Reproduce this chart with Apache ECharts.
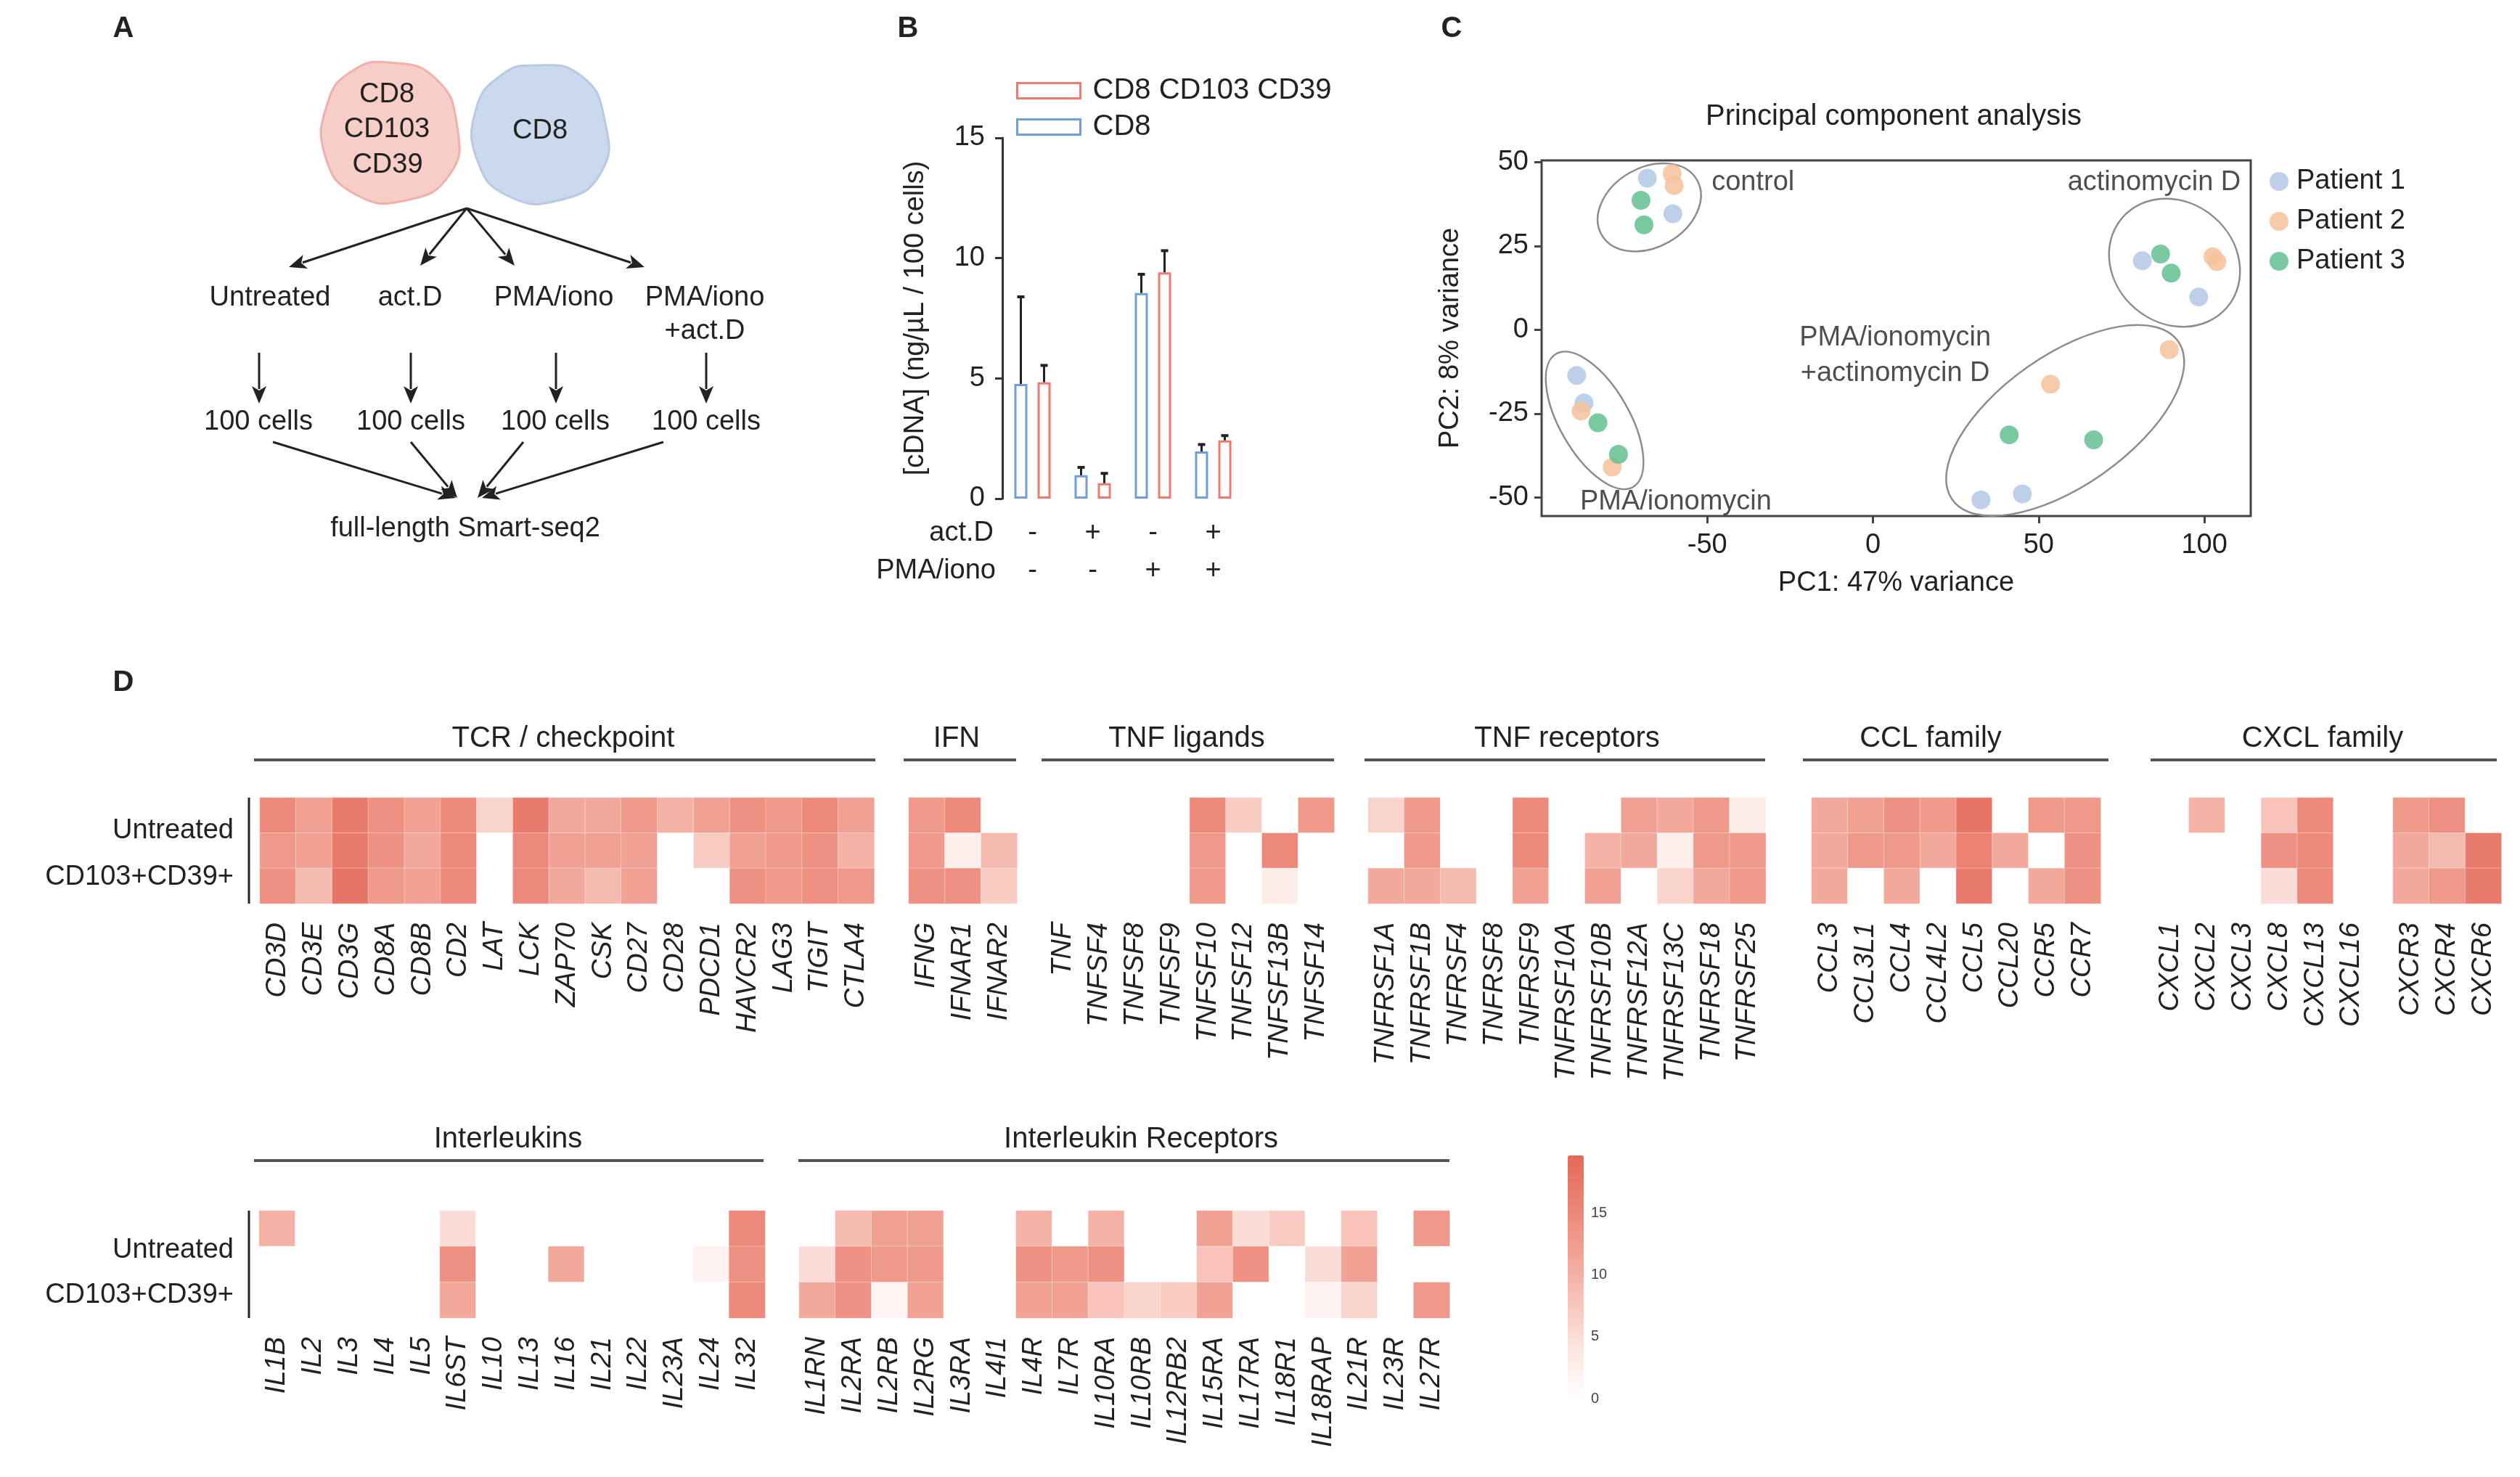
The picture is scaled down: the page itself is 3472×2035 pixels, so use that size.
<!DOCTYPE html>
<html><head><meta charset="utf-8">
<script src="https://cdn.jsdelivr.net/npm/echarts@6/dist/echarts.min.js"></script>
<style>html,body{margin:0;padding:0;background:#fff}#c{width:3472px;height:2035px}</style>
</head><body><div id="c"></div><script>
// ================= DATA =================
// Panel B
const barCategories = ['Untreated', 'act.D', 'PMA/iono', 'PMA/iono+act.D'];
const actDSigns = ['-', '+', '-', '+'];
const pmaSigns = ['-', '-', '+', '+'];
const cd8Mean = [4.77, 0.97, 8.55, 1.96];
const cd8Upper = [8.39, 1.30, 9.33, 2.25];
const trmMean = [4.84, 0.64, 9.41, 2.42];
const trmUpper = [5.54, 1.05, 10.31, 2.62];
// Panel C
const patient1 = [[-68.1, 45.2], [-60.4, 34.6], [81.3, 20.6], [98.3, 9.8], [32.6, -50.7], [45.1, -48.9], [-89.4, -13.6], [-87.2, -21.8]];
const patient2 = [[-60.6, 46.6], [-60.0, 43.0], [102.6, 21.8], [103.8, 20.3], [89.4, -5.9], [53.6, -16.2], [-88.1, -24.2], [-78.7, -40.9]];
const patient3 = [[-70.0, 38.6], [-69.1, 31.3], [86.8, 22.6], [90.0, 16.9], [41.1, -31.3], [66.6, -32.8], [-83.0, -27.7], [-76.8, -37.1]];
// ellipse: [cx, cy, semi-major, semi-minor (x units), angle deg]
const pcaEllipses = [[-67.5, 36.5, 16.6, 12.0, 30], [91, 20, 20.8, 18.2, -40], [58, -27, 41.6, 19.7, 35], [-84, -27, 23.2, 10.5, -60]];
const pcaLabels = [
  {name: 'control', value: [-48.7, 44.0], align: 'left'},
  {name: 'actinomycin D', value: [111, 44.0], align: 'right'},
  {name: 'PMA/ionomycin\n+actinomycin D', value: [6.7, -7.6], align: 'center'},
  {name: 'PMA/ionomycin', value: [-88.4, -51.2], align: 'left'}
];
const pcaXTicks = [-50, 0, 50, 100];
const pcaYTicks = [-50, -25, 0, 25, 50];
// Panel D heatmaps (3 rows each)
const tcrGenes = ['CD3D','CD3E','CD3G','CD8A','CD8B','CD2','LAT','LCK','ZAP70','CSK','CD27','CD28','PDCD1','HAVCR2','LAG3','TIGIT','CTLA4'];
const tcrValues = [
  [15,12,17,14,12,15,6,17,11,11,13,10,12,14,13,15,12],
  [13,12,17,14,11,15,0,15,12,12,12,0,7,12,13,14,10],
  [14,9,18,13,12,15,0,15,11,9,12,0,0,14,13,14,13]];
const ifnGenes = ['IFNG','IFNAR1','IFNAR2'];
const ifnValues = [[13,15,0],[13,2.5,9],[14,14,7]];
const tnflGenes = ['TNF','TNFSF4','TNFSF8','TNFSF9','TNFSF10','TNFSF12','TNFSF13B','TNFSF14'];
const tnflValues = [[0,0,0,0,15,7,0,13],[0,0,0,0,13,0,15,0],[0,0,0,0,13,0,3,0]];
const tnfrGenes = ['TNFRSF1A','TNFRSF1B','TNFRSF4','TNFRSF8','TNFRSF9','TNFRSF10A','TNFRSF10B','TNFRSF12A','TNFRSF13C','TNFRSF18','TNFRSF25'];
const tnfrValues = [
  [6,13,0,0,15,0,0,12,11,13,3],
  [0,13,0,0,15,0,10,11,2.5,13,13],
  [11,11,9,0,12,0,12,0,6,11,13]];
const cclGenes = ['CCL3','CCL3L1','CCL4','CCL4L2','CCL5','CCL20','CCR5','CCR7'];
const cclValues = [[11,12,14,13,18,0,13,13],[11,13,13,11,16,11,0,14],[11,0,11,0,17,0,11,14]];
const cxclGenes = ['CXCL1','CXCL2','CXCL3','CXCL8','CXCL13','CXCL16'];
const cxclValues = [[0,10,0,8,15,0],[0,0,0,14,15,0],[0,0,0,5,15,0]];
const cxcrGenes = ['CXCR3','CXCR4','CXCR6'];
const cxcrValues = [[13,14,0],[11,9,17],[11,13,17]];
const ilGenes = ['IL1B','IL2','IL3','IL4','IL5','IL6ST','IL10','IL13','IL16','IL21','IL22','IL23A','IL24','IL32'];
const ilValues = [
  [10,0,0,0,0,5,0,0,0,0,0,0,0,15],
  [0,0,0,0,0,14,0,0,11,0,0,0,2,14],
  [0,0,0,0,0,11,0,0,0,0,0,0,0,15]];
const ilrGenes = ['IL1RN','IL2RA','IL2RB','IL2RG','IL3RA','IL4I1','IL4R','IL7R','IL10RA','IL10RB','IL12RB2','IL15RA','IL17RA','IL18R1','IL18RAP','IL21R','IL23R','IL27R'];
const ilrValues = [
  [0,9,12,12,0,0,10,0,10,0,0,12,5,7,0,8,0,13],
  [5,14,13,13,0,0,14,13,14,0,0,8,14,0,5,12,0,0],
  [11,14,1.5,12,0,0,12,12,8,6,7,12,0,0,2,6,0,13]];
const colorTicks = [0, 5, 10, 15];
const colorMax = 19.7;

// ================= LAYOUT / STYLE =================
const FONT = '"Liberation Sans", Arial, Helvetica, sans-serif';
const TXT = '#222';
const BLUE = '#6f9fd5', RED = '#ef7b6e';
const P_COLORS = ['#b3c7e5', '#f6c29a', '#63c08f'];
const BAR_W = 18, BAR_GAP = 0.78;
const CELL_W = 49.8;
const hmGroups = [
  {genes: tcrGenes, values: tcrValues, left: 358, top: 1099, h: 146},
  {genes: ifnGenes, values: ifnValues, left: 1252, top: 1099, h: 146},
  {genes: tnflGenes, values: tnflValues, left: 1440, top: 1099, h: 146},
  {genes: tnfrGenes, values: tnfrValues, left: 1885, top: 1099, h: 146},
  {genes: cclGenes, values: cclValues, left: 2496, top: 1099, h: 146},
  {genes: cxclGenes, values: cxclValues, left: 2966, top: 1099, h: 146},
  {genes: cxcrGenes, values: cxcrValues, left: 3297, top: 1099, h: 146},
  {genes: ilGenes, values: ilValues, left: 357, top: 1668, h: 148},
  {genes: ilrGenes, values: ilrValues, left: 1101, top: 1668, h: 148}
];
// [text, lineX1, lineX2, lineY, textCenterX]
const headers = [
  ['TCR / checkpoint', 350, 1206, 1047, 776], ['IFN', 1245, 1400, 1047, 1318], ['TNF ligands', 1435, 1838, 1047, 1635],
  ['TNF receptors', 1880, 2432, 1047, 2159], ['CCL family', 2484, 2905, 1047, 2660], ['CXCL family', 2963, 3440, 1047, 3200],
  ['Interleukins', 350, 1052, 1599, 700], ['Interleukin Receptors', 1100, 1997, 1599, 1572]
];
const pinkBlob = [[535, 86], [600, 108], [630, 175], [620, 240], [560, 276], [490, 268], [448, 215], [452, 140], [485, 98]];
const blueBlob = [[735, 90], [800, 104], [833, 165], [828, 238], [770, 276], [700, 270], [658, 222], [656, 150], [690, 104]];

// ================= HELPERS =================
function txt(text, x, y, o) {
  o = o || {};
  return {type: 'text', x: x, y: y, silent: true, style: {text: text, fill: o.fill || TXT, fontSize: o.size || 38,
    fontFamily: FONT, fontWeight: o.weight || 'normal', align: o.align || 'center', verticalAlign: 'middle', lineHeight: o.lh || 46}};
}
function line(x1, y1, x2, y2, c, w) {
  return {type: 'line', silent: true, shape: {x1: x1, y1: y1, x2: x2, y2: y2}, style: {stroke: c || '#222', lineWidth: w || 3}};
}
function arrow(x1, y1, x2, y2) {
  const L = 24, W = 10; const dx = x2 - x1, dy = y2 - y1; const len = Math.hypot(dx, dy);
  const ux = dx / len, uy = dy / len; const bx = x2 - ux * L, by = y2 - uy * L;
  return [line(x1, y1, bx + ux * 4, by + uy * 4, '#222', 3),
    {type: 'polygon', silent: true, shape: {points: [[x2, y2], [bx - uy * W, by + ux * W], [bx + ux * 6, by + uy * 6], [bx + uy * W, by - ux * W]]}, style: {fill: '#222'}}];
}
function errRender(side) {
  return function (params, api) {
    const i = api.value(0);
    const p0 = api.coord([i, api.value(1)]);
    const p1 = api.coord([i, api.value(2)]);
    const x = p0[0] + side * BAR_W * (1 + BAR_GAP) / 2;
    return {type: 'group', children: [
      {type: 'line', shape: {x1: x, y1: p0[1], x2: x, y2: p1[1]}, style: {stroke: '#222', lineWidth: 3}},
      {type: 'line', shape: {x1: x - 5, y1: p1[1], x2: x + 5, y2: p1[1]}, style: {stroke: '#222', lineWidth: 4}}]};
  };
}
function ellipseItem(params, api) {
  const c = api.coord([api.value(0), api.value(1)]);
  const ux = api.size([1, 0])[0];
  return {type: 'ellipse', x: c[0], y: c[1], rotation: api.value(4) * Math.PI / 180,
    shape: {cx: 0, cy: 0, rx: api.value(2) * ux, ry: api.value(3) * ux},
    style: {fill: 'none', stroke: '#8c8c8c', lineWidth: 2.5}};
}

// ================= GRAPHIC (panel A, headers, row labels) =================
const graphic = [];
graphic.push(txt('A', 170, 40, {weight: 'bold', size: 40}));
graphic.push(txt('B', 1251, 40, {weight: 'bold', size: 40}));
graphic.push(txt('C', 2000, 40, {weight: 'bold', size: 40}));
graphic.push(txt('D', 170, 941, {weight: 'bold', size: 40}));
graphic.push({type: 'polygon', silent: true, shape: {points: pinkBlob, smooth: 0.5}, style: {fill: '#f7cdc8', stroke: '#efb1aa', lineWidth: 3}});
graphic.push({type: 'polygon', silent: true, shape: {points: blueBlob, smooth: 0.5}, style: {fill: '#cad9ec', stroke: '#b6cae3', lineWidth: 3}});
graphic.push(txt('CD8', 533, 131), txt('CD103', 533, 179), txt('CD39', 534, 228), txt('CD8', 744, 181));
[[398, 368], [579, 366], [709, 366], [888, 368]].forEach(p => graphic.push(...arrow(643, 287, p[0], p[1])));
graphic.push(txt('Untreated', 372, 411), txt('act.D', 565, 411), txt('PMA/iono', 763, 411), txt('PMA/iono\n+act.D', 971, 434));
[357, 566, 766, 973].forEach(x => graphic.push(...arrow(x, 486, x, 556)));
[356, 566, 765, 973].forEach(x => graphic.push(txt('100 cells', x, 582)));
graphic.push(...arrow(376, 609, 628, 686), ...arrow(566, 609, 630, 686), ...arrow(721, 609, 658, 686), ...arrow(914, 609, 664, 686));
graphic.push(txt('full-length Smart-seq2', 641, 729));
graphic.push(txt('act.D', 1369, 735, {align: 'right'}), txt('PMA/iono', 1372, 787, {align: 'right'}));
graphic.push(txt('Principal component analysis', 2609, 161, {size: 40}));
headers.forEach(h => {
  graphic.push(line(h[1], h[3], h[2], h[3], '#555', 4));
  graphic.push(txt(h[0], h[4], h[3] - 29, {size: 40}));
});
graphic.push(line(343, 1099, 343, 1245, '#222', 3), line(343, 1668, 343, 1816, '#222', 3));
graphic.push(txt('Untreated', 322, 1145, {align: 'right'}), txt('CD103+CD39+', 322, 1209, {align: 'right'}));
graphic.push(txt('Untreated', 322, 1723, {align: 'right'}), txt('CD103+CD39+', 322, 1785, {align: 'right'}));

// ================= GRIDS / AXES / SERIES =================
const grid = [
  {left: 1381, top: 190, width: 332, height: 497},
  {left: 2124, top: 221, width: 977, height: 490, show: true, borderColor: '#444', borderWidth: 3, backgroundColor: 'transparent'},
  {left: 2160, top: 1592, width: 22, height: 335}
];
const axisText = {fontSize: 38, fontFamily: FONT, color: TXT};
const xAxis = [
  {gridIndex: 0, type: 'category', position: 'bottom', data: barCategories, offset: 48, axisLine: {show: false}, axisTick: {show: false},
    axisLabel: Object.assign({formatter: (v, i) => actDSigns[i], margin: 0, verticalAlign: 'middle'}, axisText)},
  {gridIndex: 0, type: 'category', position: 'bottom', data: barCategories, offset: 100, axisLine: {show: false}, axisTick: {show: false},
    axisLabel: Object.assign({formatter: (v, i) => pmaSigns[i], margin: 0, verticalAlign: 'middle'}, axisText)},
  {gridIndex: 1, type: 'value', min: -100, max: 114, splitLine: {show: false}, axisLine: {show: false, onZero: false},
    axisTick: {show: true, length: 10, customValues: pcaXTicks, lineStyle: {color: '#444', width: 3}},
    axisLabel: Object.assign({customValues: pcaXTicks, margin: 22}, axisText),
    name: 'PC1: 47% variance', nameLocation: 'middle', nameGap: 74, nameTextStyle: axisText},
  {gridIndex: 2, type: 'value', show: false, min: 0, max: 1}
];
const yAxis = [
  {gridIndex: 0, type: 'value', min: 0, max: 15, interval: 5, splitLine: {show: false},
    axisLine: {show: true, lineStyle: {color: '#333', width: 3}}, axisTick: {show: true, length: 10, lineStyle: {color: '#333', width: 3}},
    axisLabel: Object.assign({margin: 24}, axisText),
    name: '[cDNA] (ng/µL / 100 cells)', nameLocation: 'middle', nameGap: 100, nameTextStyle: axisText},
  {gridIndex: 1, type: 'value', min: -55.5, max: 50.5, splitLine: {show: false}, axisLine: {show: false, onZero: false},
    axisTick: {show: true, length: 10, customValues: pcaYTicks, lineStyle: {color: '#444', width: 3}},
    axisLabel: Object.assign({customValues: pcaYTicks, margin: 18}, axisText),
    name: 'PC2: 8% variance', nameLocation: 'middle', nameGap: 106, nameTextStyle: axisText},
  {gridIndex: 2, type: 'value', min: 0, max: colorMax, position: 'right', splitLine: {show: false}, axisLine: {show: false}, axisTick: {show: false},
    axisLabel: {customValues: colorTicks, fontSize: 20, fontFamily: FONT, color: '#444', margin: 10}}
];
const series = [
  {type: 'bar', name: 'CD8', xAxisIndex: 0, yAxisIndex: 0, data: cd8Mean, barWidth: BAR_W, barGap: (BAR_GAP * 100) + '%',
    itemStyle: {color: '#fff', borderColor: BLUE, borderWidth: 3}},
  {type: 'bar', name: 'CD8 CD103 CD39', xAxisIndex: 0, yAxisIndex: 0, data: trmMean, barWidth: BAR_W,
    itemStyle: {color: '#fff', borderColor: RED, borderWidth: 3}},
  {type: 'custom', xAxisIndex: 0, yAxisIndex: 0, encode: {x: 0, y: [1, 2]}, z: 5, renderItem: errRender(-1),
    data: cd8Mean.map((m, i) => [i, m, cd8Upper[i]])},
  {type: 'custom', xAxisIndex: 0, yAxisIndex: 0, encode: {x: 0, y: [1, 2]}, z: 5, renderItem: errRender(1),
    data: trmMean.map((m, i) => [i, m, trmUpper[i]])},
  {type: 'custom', xAxisIndex: 2, yAxisIndex: 1, encode: {x: 0, y: 1}, renderItem: ellipseItem, data: pcaEllipses, silent: true, clip: false},
  {type: 'scatter', name: 'Patient 1', xAxisIndex: 2, yAxisIndex: 1, symbolSize: 26, data: patient1, itemStyle: {color: P_COLORS[0], opacity: 0.85}},
  {type: 'scatter', name: 'Patient 2', xAxisIndex: 2, yAxisIndex: 1, symbolSize: 26, data: patient2, itemStyle: {color: P_COLORS[1], opacity: 0.85}},
  {type: 'scatter', name: 'Patient 3', xAxisIndex: 2, yAxisIndex: 1, symbolSize: 26, data: patient3, itemStyle: {color: P_COLORS[2], opacity: 0.85}},
  {type: 'scatter', xAxisIndex: 2, yAxisIndex: 1, symbolSize: 1, silent: true, itemStyle: {color: 'rgba(0,0,0,0)'},
    data: pcaLabels.map(d => ({name: d.name, value: d.value, label: {align: d.align}})),
    label: {show: true, position: 'inside', formatter: '{b}', fontSize: 38, fontFamily: FONT, color: TXT, lineHeight: 49}}
];
const heatSeriesIdx = [];
hmGroups.forEach((g, k) => {
  const gi = grid.length;
  grid.push({left: g.left, top: g.top, width: g.genes.length * CELL_W, height: g.h});
  xAxis.push({gridIndex: gi, type: 'category', data: g.genes, axisLine: {show: false}, axisTick: {show: false}, splitLine: {show: false},
    axisLabel: {interval: 0, rotate: 90, fontSize: 38, fontStyle: 'italic', fontFamily: FONT, color: TXT, margin: 26}});
  yAxis.push({gridIndex: gi, type: 'category', data: ['r1', 'r2', 'r3'], inverse: true, show: false});
  const data = [];
  g.values.forEach((row, r) => row.forEach((v, i) => data.push([i, r, v])));
  heatSeriesIdx.push(series.length);
  series.push({type: 'heatmap', xAxisIndex: xAxis.length - 1, yAxisIndex: yAxis.length - 1, data: data, silent: true,
    itemStyle: {borderColor: 'rgba(255,255,255,0.35)', borderWidth: 1}});
});

const option = {
  animation: false,
  backgroundColor: '#fff',
  textStyle: {fontFamily: FONT},
  graphic: graphic,
  grid: grid, xAxis: xAxis, yAxis: yAxis, series: series,
  legend: [
    {orient: 'vertical', left: 1395, top: 100, itemWidth: 87, itemHeight: 21, itemGap: 10,
      textStyle: {fontSize: 40, fontFamily: FONT, color: TXT, lineHeight: 38, padding: [0, 0, 0, 12]},
      data: [{name: 'CD8 CD103 CD39', icon: 'rect', itemStyle: {color: '#fff', borderColor: RED, borderWidth: 3}},
             {name: 'CD8', icon: 'rect', itemStyle: {color: '#fff', borderColor: BLUE, borderWidth: 3}}]},
    {orient: 'vertical', left: 3122, top: 225, itemWidth: 26, itemHeight: 26, itemGap: 15, icon: 'circle',
      textStyle: {fontSize: 38, fontFamily: FONT, color: TXT, lineHeight: 40, padding: [0, 0, 0, 6]},
      data: ['Patient 1', 'Patient 2', 'Patient 3']}
  ],
  visualMap: {type: 'continuous', min: 0, max: colorMax, left: 2160, top: 1592, itemWidth: 22, itemHeight: 335,
    calculable: false, padding: 0, text: null, showLabel: false, seriesIndex: heatSeriesIdx,
    inRange: {color: ['#ffffff', '#fce6e1', '#f7c4bb', '#f1a294', '#eb8374', '#e46a59']}}
};
const chart = echarts.init(document.getElementById('c'), null, {renderer: 'canvas', width: 3472, height: 2035});
chart.setOption(option);
</script></body></html>
